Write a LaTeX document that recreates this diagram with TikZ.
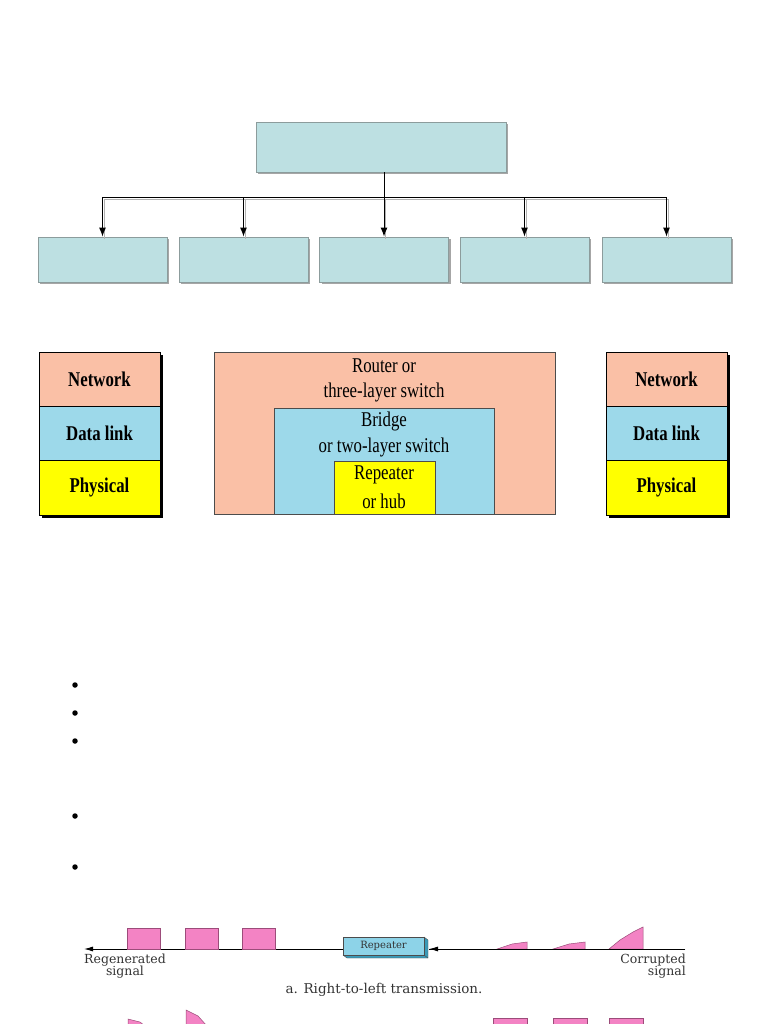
\documentclass[tikz,border=0pt]{standalone}
\usepackage{fontspec}
\setmainfont{Liberation Serif}
\newfontfamily\cond[FakeStretch=0.8]{Liberation Serif}
\newfontfamily\capfont{DejaVu Serif}
\usetikzlibrary{arrows.meta,shadows}
\definecolor{tboxfill}{HTML}{BDE0E2}
\definecolor{tboxdraw}{HTML}{8C9C9C}
\definecolor{salmon}{HTML}{FAC0A6}
\definecolor{dlblue}{HTML}{9DD9EA}
\definecolor{phyellow}{HTML}{FFFF00}
\definecolor{pulse}{HTML}{F383C4}
\definecolor{pulsedraw}{HTML}{9C4C7A}
\definecolor{repfront}{HTML}{8DD3E8}
\definecolor{repside}{HTML}{3A9AB8}
\tikzset{
  tbox/.style={draw=tboxdraw, fill=tboxfill, line width=0.8pt, inner sep=0pt,
    drop shadow={shadow xshift=2pt, shadow yshift=-2pt, fill=gray!70, opacity=1}},
  arr/.style={-{Latex[length=9pt,width=7pt]}, line width=1pt},
  arrshadow/.style={line width=1pt, draw=gray!60},
  layer/.style={draw=black, line width=0.8pt, inner sep=0pt, minimum width=121pt,
    font=\cond\bfseries\fontsize{21}{21}\selectfont},
  devbox/.style={draw=black!70, line width=0.6pt, inner sep=0pt},
  devtext/.style={font=\cond\fontsize{21}{21}\selectfont, inner sep=0pt},
  bulletdot/.style={circle, fill=black, inner sep=0pt, minimum size=5.5pt},
  pulsebox/.style={fill=pulse, draw=pulsedraw, line width=0.5pt},
  sig/.style={line width=0.9pt},
  sigarr/.style={-{Latex[length=9pt,width=5pt]}, line width=0.9pt},
  small/.style={font=\capfont\fontsize{12.5}{12.5}\selectfont, text=black!80, inner sep=0pt, align=center},
}
\begin{document}
\begin{tikzpicture}[x=1pt,y=-1pt]
\useasboundingbox (0,0) rectangle (768,1024);
\clip (0,0) rectangle (768,1024);

% ---------- top hierarchy ----------
\node[tbox, minimum width=250pt, minimum height=50pt] (top) at (381,147) {};
\foreach \i/\x in {1/102.5,2/243.5,3/384,4/524.5,5/666.5}{
  \node[tbox, minimum width=129pt, minimum height=45pt] (b\i) at (\x,259.5) {};
}
\coordinate (j) at (384,198);
\foreach \i in {1,...,5}{
  \draw[arrshadow] ([shift={(1.5,1.5)}]j) -| ([xshift=1.5pt,yshift=-2pt]b\i.north);
}
\draw[line width=1pt] (j |- top.south) -- (j);
\foreach \i in {1,...,5}{
  \draw[arr] (j) -| (b\i.north);
}

% ---------- layer stacks ----------
\fill[black] (42,355) rectangle (163,518);
\node[layer, fill=salmon, minimum height=54pt] (net1) at (99.5,379) {Network};
\node[layer, fill=dlblue, minimum height=54pt] (dl1) at (99.5,433) {Data link};
\node[layer, fill=phyellow, minimum height=55pt] (ph1) at (99.5,487.5) {Physical};

\fill[black] (609,355) rectangle (730,518);
\node[layer, fill=salmon, minimum height=54pt] (net2) at (666.5,379) {Network};
\node[layer, fill=dlblue, minimum height=54pt] (dl2) at (666.5,433) {Data link};
\node[layer, fill=phyellow, minimum height=55pt] (ph2) at (666.5,487.5) {Physical};

% ---------- devices ----------
\node[devbox, fill=salmon, minimum width=341pt, minimum height=162pt] (router) at (384.5,433) {};
\node[devbox, fill=dlblue, minimum width=220pt, minimum height=106pt] (bridge) at (384,461) {};
\node[devbox, fill=phyellow, minimum width=101pt, minimum height=53pt] (rep) at (384.5,487.5) {};
\node[devtext] (rt1) at (384,366) {Router or};
\node[devtext] (rt2) at (384,392) {three-layer switch};
\node[devtext] (bt1) at (384,421) {Bridge};
\node[devtext] (bt2) at (384,447) {or two-layer switch};
\node[devtext] (pt1) at (384,475) {Repeater};
\node[devtext] (pt2) at (384,501) {or hub};

% ---------- bullets ----------
\foreach \i/\y in {1/685,2/713,3/741,4/816,5/867}{
  \node[bulletdot] (u\i) at (75,\y) {};
}

% ---------- repeater, right-to-left ----------
\coordinate (lend) at (84,949);
\coordinate (rend) at (685,949);
% 3D repeater
\fill[repside] (424,937) -- (428,940) -- (428,958) -- (347,958) -- (343,955) -- (424,955) -- cycle;
\draw[black!70, line width=0.4pt] (424,937) -- (428,940) -- (428,958) -- (347,958) -- (343,955);
\draw[black!70, line width=0.4pt] (424,955) -- (428,958);
\node[draw=black!70, fill=repfront, line width=0.4pt, minimum width=81pt, minimum height=18pt,
  inner sep=0pt, font=\capfont\fontsize{10}{10}\selectfont, text=black!80] (repa) at (383.5,946) {Repeater};
\coordinate (repin) at (429,949);
\coordinate (repout) at (343,949);
\draw[sigarr] (rend) -- (repin);
\draw[sigarr] (repout) -- (lend);

% regenerated pulses
\foreach \x in {127,185,242}{
  \draw[pulsebox] (\x,949) rectangle ++(33,-21);
}
% corrupted pulses
\draw[pulsebox] (497,949) -- (512,944) -- (527,942) -- (527,949) -- cycle;
\draw[pulsebox] (553,949) -- (569,944) -- (585,942) -- (585,949) -- cycle;
\draw[pulsebox] (609,949) -- (620,940) -- (633,932) -- (643,927) -- (643,949) -- cycle;
\draw[sig] (rend) -- (repin);

\node[small] (regen) at (125,966) {Regenerated\\[0pt]signal};
\node[small, align=right, anchor=east] (corr) at (686,966) {Corrupted\\[0pt]signal};
\node[small, font=\capfont\fontsize{13.5}{13.5}\selectfont] (capa) at (384,990) {a. Right-to-left transmission.};

% ---------- partial second row ----------
\draw[pulsebox] (128,1040) -- (128,1019) -- (140,1022) -- (150,1030) -- (150,1040) -- cycle;
\draw[pulsebox] (186,1040) -- (186,1010) -- (198,1016) -- (207,1026) -- (210,1040) -- cycle;
\foreach \x in {493,553,609}{
  \draw[pulsebox] (\x,1040) rectangle ++(34,-22);
}
\end{tikzpicture}
\end{document}
